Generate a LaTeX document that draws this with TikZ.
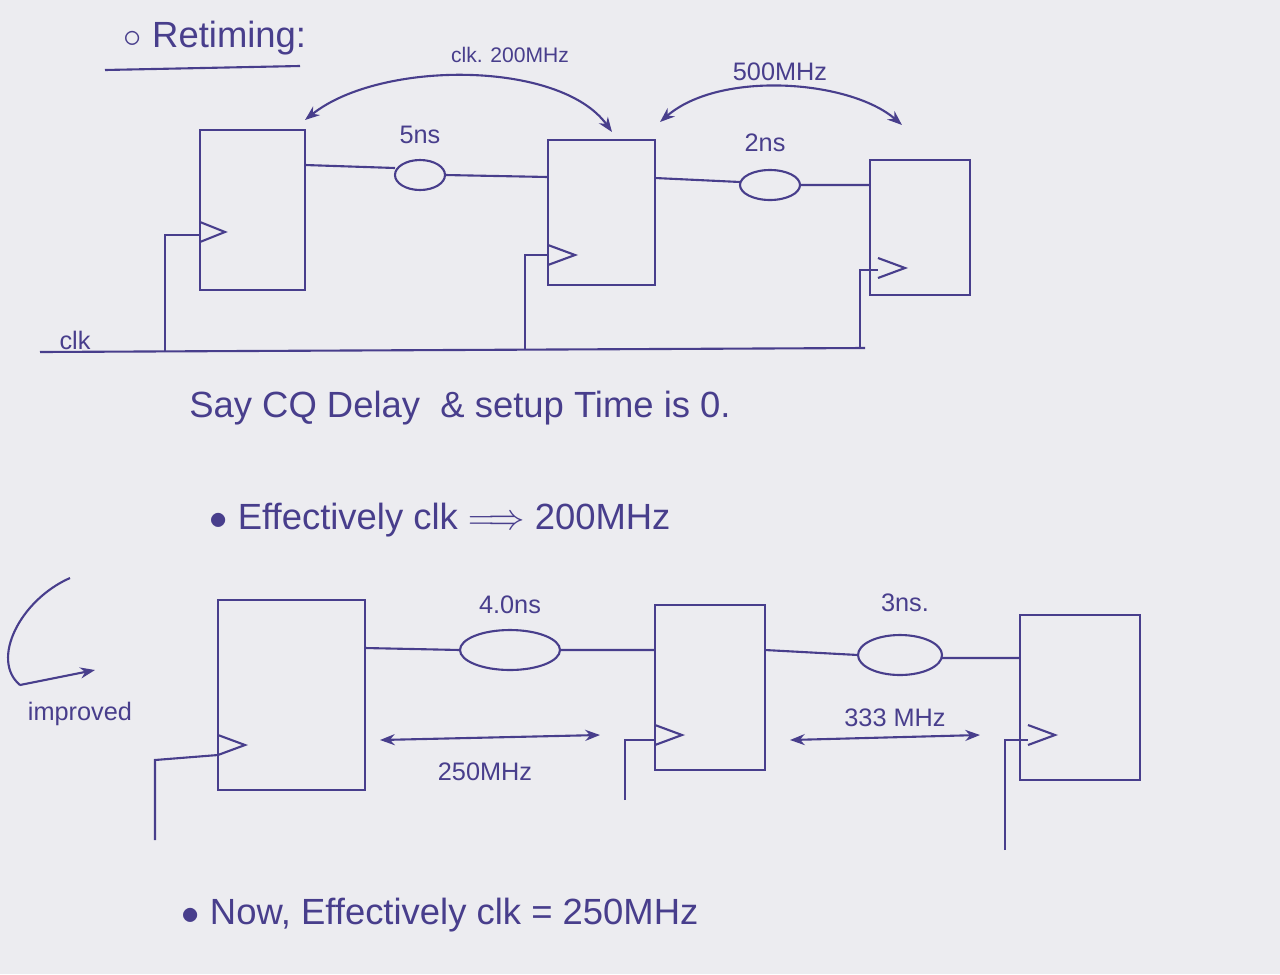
\documentclass[tikz,border=0pt]{standalone}
\usepackage{fontspec}
\setmainfont{Liberation Sans}
\usetikzlibrary{arrows.meta}
\definecolor{ink}{RGB}{72,62,140}
\definecolor{paper}{RGB}{236,236,240}
\begin{document}
\begin{tikzpicture}[x=0.02cm,y=-0.02cm,
  ink/.style={draw=ink,line width=1.2pt},
  txt/.style={text=ink,font=\Large},
  arr/.style={ink,{Stealth}-{Stealth}}]
\fill[paper] (0,0) rectangle (1280,974);
\useasboundingbox (0,0) rectangle (1280,974);
% top
\node[txt,font=\huge] (ttl) at (215,38) {$\circ$ Retiming:};
\draw[ink] (105,70) -- (300,66);
\node[txt,font=\large] (c200) at (510,55) {clk. 200MHz};
\node[txt] (c500) at (780,72) {500MHz};
\draw[ink] (200,130) rectangle (305,290);
\draw[ink] (200,222) -- (225,232) -- (200,242);
\draw[ink] (548,140) rectangle (655,285);
\draw[ink] (548,245) -- (575,255) -- (548,265);
\draw[ink] (870,160) rectangle (970,295);
\draw[ink] (878,258) -- (905,268) -- (878,278);
\draw[ink] (420,175) ellipse [x radius=25,y radius=15];
\draw[ink] (770,185) ellipse [x radius=30,y radius=15];
\draw[ink] (305,165) -- (395,168) (445,175) -- (548,177);
\draw[ink] (655,178) -- (740,182) (800,185) -- (870,185);
\node[txt] (n5) at (420,135) {5ns};
\node[txt] (n2) at (765,143) {2ns};
\draw[arr] (305,120) .. controls (380,60) and (560,60) .. (612,132);
\draw[arr] (660,122) .. controls (720,70) and (850,80) .. (902,125);
\draw[ink] (40,352) -- (865,348);
\draw[ink] (165,352) -- (165,235) -- (200,235);
\draw[ink] (525,349) -- (525,255) -- (548,255);
\draw[ink] (860,348) -- (860,270) -- (878,270);
\node[txt] (clk) at (75,340) {clk};
\node[txt,font=\huge] (say) at (460,408) {Say CQ Delay \ \& setup Time is 0.};
\node[txt,font=\huge] (eff1) at (440,520) {$\bullet$ Effectively clk $\Longrightarrow$ 200MHz};
% bottom
\draw[ink] (218,600) rectangle (365,790);
\draw[ink] (218,735) -- (245,745) -- (218,755);
\draw[ink] (155,840) -- (155,760) -- (218,755);
\draw[ink] (510,650) ellipse [x radius=50,y radius=20];
\draw[ink] (365,648) -- (460,650) (560,650) -- (655,650);
\node[txt] (n4) at (510,605) {4.0ns};
\draw[ink] (655,605) rectangle (765,770);
\draw[ink] (655,725) -- (682,735) -- (655,745);
\draw[ink] (625,800) -- (625,740) -- (655,740);
\draw[arr] (380,740) -- (600,735);
\node[txt] (n250) at (485,772) {250MHz};
\draw[ink] (900,655) ellipse [x radius=42,y radius=20];
\draw[ink] (765,650) -- (858,655) (942,658) -- (1020,658);
\node[txt] (n3) at (905,603) {3ns.};
\draw[ink] (1020,615) rectangle (1140,780);
\draw[ink] (1028,725) -- (1055,735) -- (1028,745);
\draw[ink] (1005,850) -- (1005,740) -- (1028,740);
\draw[arr] (790,740) -- (980,735);
\node[txt] (n333) at (895,718) {333 MHz};
\draw[ink] (70,578) .. controls (20,600) and (-10,660) .. (20,685);
\draw[ink,-{Stealth}] (20,685) -- (95,670);
\node[txt] (imp) at (80,714) {improved};
\node[txt,font=\huge] (eff2) at (440,915) {$\bullet$ Now, Effectively clk = 250MHz};
\end{tikzpicture}
\end{document}
